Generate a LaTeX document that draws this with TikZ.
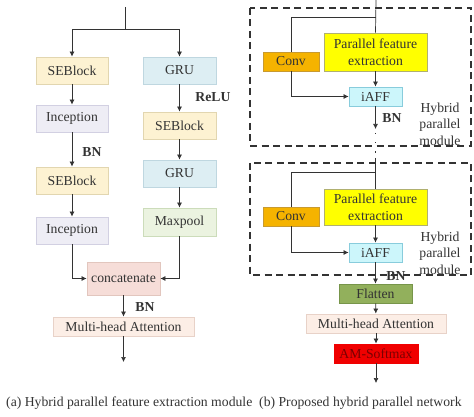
\documentclass[tikz,border=0pt]{standalone}
\usepackage{fontspec}
\setmainfont{Liberation Serif}
\usetikzlibrary{arrows.meta, calc}

\definecolor{seFill}{HTML}{FDF2D2}
\definecolor{seLine}{HTML}{E2D6B0}
\definecolor{incFill}{HTML}{EEEDF5}
\definecolor{incLine}{HTML}{D2D0E2}
\definecolor{gruFill}{HTML}{DDEEF3}
\definecolor{gruLine}{HTML}{BFD7E0}
\definecolor{mpFill}{HTML}{EBF3E0}
\definecolor{mpLine}{HTML}{CCDCBA}
\definecolor{catFill}{HTML}{F6DDD8}
\definecolor{catLine}{HTML}{E2C6BE}
\definecolor{mhaFill}{HTML}{FCEEE6}
\definecolor{mhaLine}{HTML}{E8D2C8}
\definecolor{convFill}{HTML}{F5B300}
\definecolor{convLine}{HTML}{C89A30}
\definecolor{pfeFill}{HTML}{FFFF00}
\definecolor{pfeLine}{HTML}{B0B070}
\definecolor{iaffFill}{HTML}{CCF6FB}
\definecolor{iaffLine}{HTML}{88CCDC}
\definecolor{flatFill}{HTML}{92B05C}
\definecolor{flatLine}{HTML}{77954A}
\definecolor{amFill}{HTML}{F00000}
\definecolor{amText}{HTML}{7A0000}
\definecolor{lineGray}{HTML}{333333}

\begin{document}
\begin{tikzpicture}[x=1pt, y=-1pt,
    font=\fontsize{13.7}{16.5}\selectfont, text=lineGray,
    blk/.style={draw, line width=0.8pt, inner sep=0pt, align=center},
    arr/.style={-{Latex[length=5pt,width=5pt]}, lineGray, line width=0.7pt},
    ln/.style={lineGray, line width=0.7pt},
    lbl/.style={font=\fontsize{13.7}{16.5}\selectfont\bfseries},
    hyb/.style={draw=lineGray, line width=1.4pt, dash pattern=on 7pt off 4.5pt}]
    \useasboundingbox (0,0) rectangle (474,417);

    % (a) hybrid parallel feature extraction module
    \coordinate (topA) at (125,7);
    \coordinate (splitA) at (125,29);
    \node[blk, fill=seFill, draw=seLine, minimum width=72pt, minimum height=27pt] (seA) at (72,70.5) {SEBlock};
    \node[blk, fill=incFill, draw=incLine, minimum width=72pt, minimum height=27pt] (incA) at (72,118.5) {Inception};
    \node[blk, fill=seFill, draw=seLine, minimum width=72pt, minimum height=27pt] (seB) at (72,180.5) {SEBlock};
    \node[blk, fill=incFill, draw=incLine, minimum width=72pt, minimum height=27pt] (incB) at (72,230.5) {Inception};
    \node[blk, fill=gruFill, draw=gruLine, minimum width=73pt, minimum height=27pt] (gruA) at (179.5,70.5) {GRU};
    \node[blk, fill=seFill, draw=seLine, minimum width=73pt, minimum height=27pt] (seC) at (179.5,125.5) {SEBlock};
    \node[blk, fill=gruFill, draw=gruLine, minimum width=73pt, minimum height=27pt] (gruB) at (179.5,173.5) {GRU};
    \node[blk, fill=mpFill, draw=mpLine, minimum width=73pt, minimum height=28pt] (maxp) at (179.5,222) {Maxpool};
    \node[blk, fill=catFill, draw=catLine, minimum width=73pt, minimum height=33pt] (concat) at (123.5,278.5) {concatenate};
    \node[blk, fill=mhaFill, draw=mhaLine, minimum width=141pt, minimum height=19pt] (mhaA) at (123.5,326.5) {Multi-head Attention};
    \coordinate (outA) at (123.5,362);

    \draw[ln] (topA) -- (splitA);
    \draw[arr] (splitA) -| (seA.north);
    \draw[arr] (splitA) -| (gruA.north);
    \draw[arr] (seA) -- (incA);
    \draw[arr] (incA) -- (seB);
    \draw[arr] (seB) -- (incB);
    \draw[arr] (gruA) -- (seC);
    \draw[arr] (seC) -- (gruB);
    \draw[arr] (gruB) -- (maxp);
    \draw[arr] (incB.south) |- (concat.west);
    \draw[arr] (maxp.south) |- (concat.east);
    \draw[arr] (concat) -- (mhaA);
    \draw[arr] (mhaA) -- (outA);
    \node[lbl] at (92,152) {BN};
    \node[lbl] at (213,97) {ReLU};
    \node[lbl] at (145,307) {BN};

    % (b) proposed hybrid parallel network
    \draw[hyb] (250,8) rectangle (471,146);
    \draw[hyb] (250,163) rectangle (471,275);

    \coordinate (topB) at (376,0);
    \coordinate (splitB) at (376,17);
    \node[blk, fill=pfeFill, draw=pfeLine, minimum width=103pt, minimum height=38pt] (pfeA) at (375.5,52) {Parallel feature\\extraction};
    \node[blk, fill=convFill, draw=convLine, minimum width=56pt, minimum height=19pt] (convA) at (291,61.5) {Conv};
    \node[blk, fill=iaffFill, draw=iaffLine, minimum width=53pt, minimum height=19pt] (iaffA) at (375.5,96.5) {iAFF};
    \coordinate (endA) at (375.5,129);
    \coordinate (startB) at (375.5,158);
    \coordinate (splitC) at (375.5,172);
    \node[blk, fill=pfeFill, draw=pfeLine, minimum width=103pt, minimum height=36pt] (pfeB) at (375.5,207) {Parallel feature\\extraction};
    \node[blk, fill=convFill, draw=convLine, minimum width=56pt, minimum height=19pt] (convB) at (291,216.5) {Conv};
    \node[blk, fill=iaffFill, draw=iaffLine, minimum width=53pt, minimum height=19pt] (iaffB) at (375.5,252.5) {iAFF};
    \node[blk, fill=flatFill, draw=flatLine, minimum width=73pt, minimum height=19pt] (flat) at (375.5,293.5) {Flatten};
    \node[blk, fill=mhaFill, draw=mhaLine, minimum width=140pt, minimum height=19pt] (mhaB) at (376,323.5) {Multi-head Attention};
    \node[blk, fill=amFill, draw=amFill, text=amText, minimum width=84pt, minimum height=19pt] (amsm) at (376,353.5) {AM-Softmax};
    \coordinate (outB) at (376,383);

    \draw[ln] (topB) -- (pfeA.north);
    \draw[ln] (splitB) -| (convA.north);
    \draw[arr] (pfeA) -- (iaffA);
    \draw[arr] (convA.south) |- (iaffA.west);
    \draw[arr] (iaffA) -- (endA);
    \draw[ln, line width=1.2pt, dash pattern=on 1.2pt off 8pt] ($(endA)+(0,4)$) -- (startB);
    \draw[ln] (startB) -- (pfeB.north);
    \draw[ln] (splitC) -| (convB.north);
    \draw[arr] (pfeB) -- (iaffB);
    \draw[arr] (convB.south) |- (iaffB.west);
    \draw[arr] (iaffB) -- (flat);
    \draw[arr] (flat) -- (mhaB);
    \draw[arr] (mhaB) -- (amsm);
    \draw[arr] (amsm) -- (outB);
    \node[lbl] at (392,118) {BN};
    \node[lbl] at (396,276) {BN};
    \node[align=center] (hybA) at (440,124) {Hybrid\\parallel\\module};
    \node[align=center] (hybB) at (440,253) {Hybrid\\parallel\\module};

    % captions
    \node[anchor=west, inner sep=0pt] (capA) at (6,403) {(a) Hybrid parallel feature extraction module};
    \node[anchor=west, inner sep=0pt] (capB) at (259,403) {(b) Proposed hybrid parallel network};
\end{tikzpicture}
\end{document}
